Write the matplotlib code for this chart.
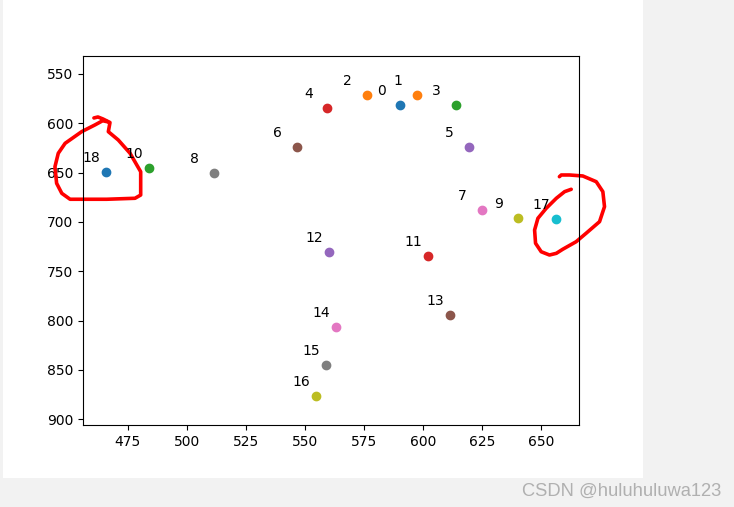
import matplotlib
matplotlib.use("Agg")
import matplotlib.pyplot as plt
from matplotlib.patches import Rectangle

# point coordinates, index = label
xs = [590.5, 597.5, 576.2, 613.9, 559.6, 619.5, 546.7, 625.0, 511.5, 640.2,
      484.1, 602.1, 560.3, 611.4, 563.2, 559.0, 554.8, 656.2, 465.9]
ys = [581.5, 571.3, 571.3, 581.5, 584.5, 624.3, 624.3, 687.9, 650.4, 696.3,
      645.6, 734.5, 730.8, 794.6, 806.8, 845.3, 876.7, 697.3, 649.4]

# order in which the points were scattered (gives the colour cycle)
plot_order = [0, 1, 3, 4, 5, 6, 7, 8, 9, 17, 18, 2, 10, 11, 12, 13, 14, 15, 16]

# hand-drawn red loops (data units)
loop_left_x = [460.7, 462.4, 464.5, 467.5, 466.8, 471.0, 476.0, 480.5, 480.5, 478.1,
               466.1, 450.6, 447.1, 444.9, 444.2, 445.6, 448.5, 455.5, 461.1, 464.4, 466.5]
loop_left_y = [594.6, 593.6, 595.6, 599.2, 608.5, 616.9, 630.4, 649.1, 672.7, 676.0,
               677.0, 677.0, 671.0, 660.8, 644.0, 630.4, 620.3, 608.5, 601.7, 597.4, 598.5]
loop_right_x = [662.8, 660.0, 656.5, 652.2, 648.7, 647.3, 647.7, 650.1, 653.6, 656.5, 659.2,
                664.9, 669.1, 674.8, 676.9, 676.2, 673.4, 667.7, 662.1, 658.6, 657.8]
loop_right_y = [666.9, 669.3, 676.0, 686.2, 696.3, 708.2, 721.6, 730.2, 733.5, 731.8, 727.7,
                720.0, 711.5, 699.7, 684.5, 669.3, 659.2, 653.4, 652.4, 652.4, 654.1]

fig = plt.figure(figsize=(7.34, 5.07), dpi=100, facecolor="#f2f2f2")
fig.patches.append(Rectangle((3 / 734, 29 / 507), 640 / 734, 478 / 507,
                             transform=fig.transFigure, facecolor="white",
                             edgecolor="none", zorder=-5))

ax = fig.add_axes([83.3 / 734, (507 - 425) / 507, (579 - 83.3) / 734, (425 - 56) / 507])

for i in plot_order:
    ax.scatter(xs[i], ys[i])
for i in range(len(xs)):
    ax.text(xs[i] - 10, ys[i] - 10, str(i))

for lx, ly in [(loop_left_x, loop_left_y), (loop_right_x, loop_right_y)]:
    ax.plot(lx, ly, color="red", lw=2.6, clip_on=False,
            solid_joinstyle="round", solid_capstyle="round")

ax.set_xlim(456.2, 666.1)
ax.set_ylim(905.8, 531.8)

fig.text(0.982, 0.03, "CSDN @huluhuluwa123", ha="right", va="center",
         fontsize=13.2, color="#b0b0b0", family="Liberation Sans")

fig.savefig("out.png", dpi=100, facecolor=fig.get_facecolor())
